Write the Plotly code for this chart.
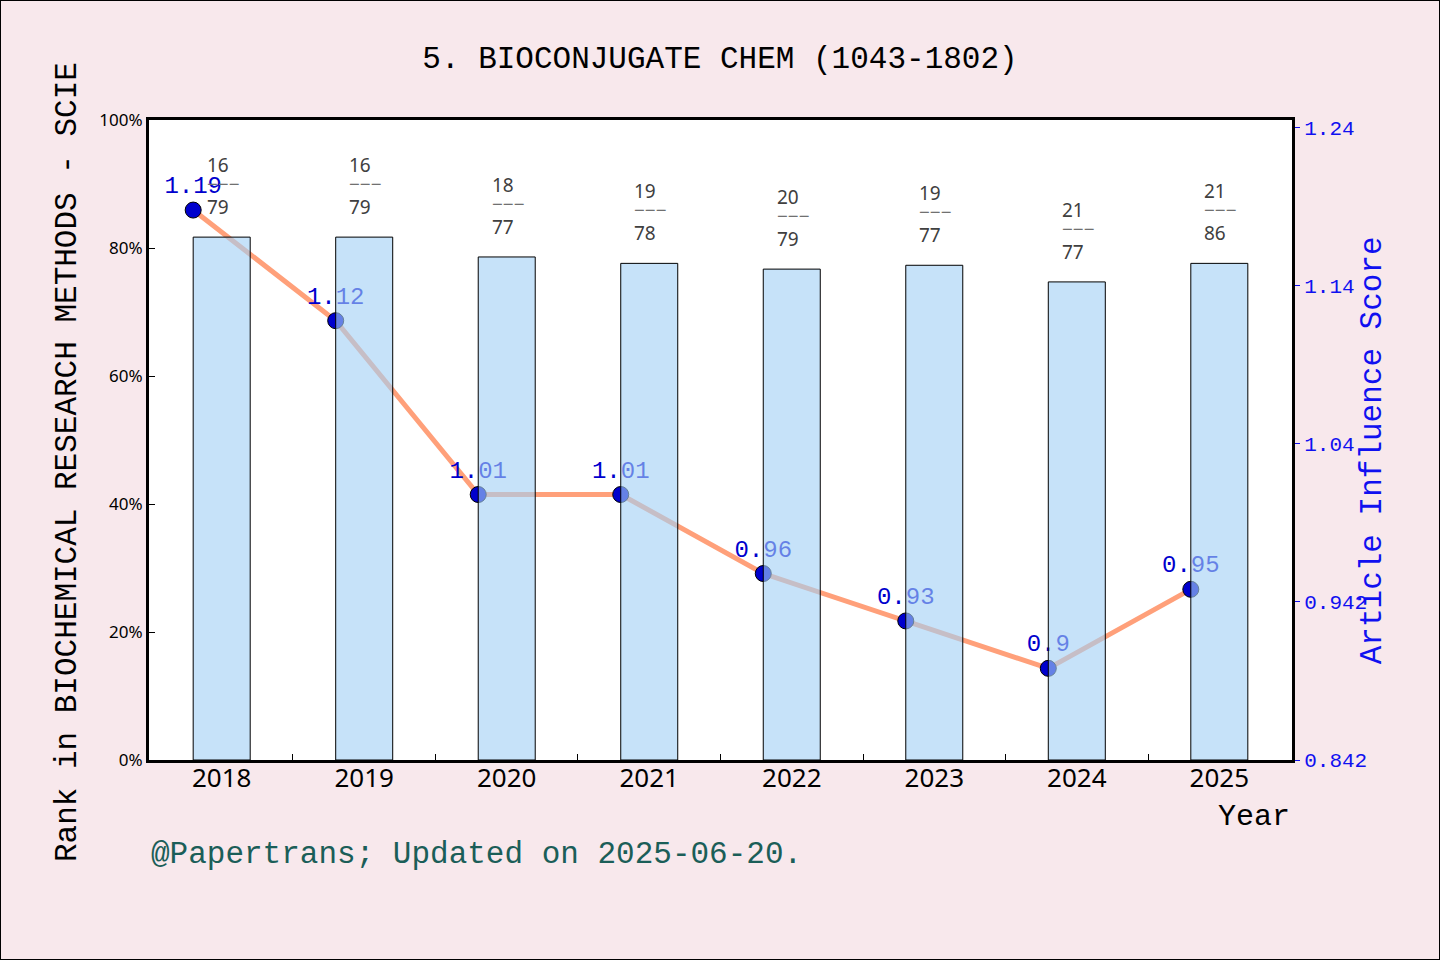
import plotly.graph_objects as go

years = ["2018", "2019", "2020", "2021", "2022", "2023", "2024", "2025"]
rank_pct = [81.7, 81.7, 78.6, 77.6, 76.7, 77.3, 74.7, 77.6]
rank_num = ["16", "16", "18", "19", "20", "19", "21", "21"]
rank_den = ["79", "79", "77", "78", "79", "77", "77", "86"]
ais = [1.19, 1.12, 1.01, 1.01, 0.96, 0.93, 0.90, 0.95]
pct_ticks = [0, 20, 40, 60, 80, 100]
pct_ticktext = ["0%", "20%", "40%", "60%", "80%", "100%"]
ais_ticks = [0.842, 0.942, 1.042, 1.142, 1.242]
ais_ticktext = ["0.842", "0.942", "1.04", "1.14", "1.24"]

MONO = "Liberation Mono, DejaVu Sans Mono, monospace"
SANS = "Noto Sans, Liberation Sans, Arial, sans-serif"

W, H = 1440, 960
ML, MR, MT, MB = 149, 148, 120, 200
pw, ph = W - ML - MR, H - MT - MB

idx = list(range(len(years)))
line_x = [i - 0.2 for i in idx]

fig = go.Figure()

# line first (primary y, right side) so the bars on the overlaying axis sit on top
fig.add_trace(go.Scatter(
    x=line_x, y=ais, yaxis="y",
    mode="lines+markers+text",
    line=dict(color="#FFA07A", width=5),
    marker=dict(size=16, color="#0000CD", line=dict(color="black", width=1)),
    text=[f"{v:g}" for v in ais],
    textposition="top center",
    textfont=dict(family=MONO, size=24, color="#0000CD"),
    showlegend=False, hoverinfo="skip",
))

fig.add_trace(go.Bar(
    x=idx, y=rank_pct, yaxis="y2", width=0.4,
    marker=dict(color="rgba(163,208,245,0.62)", line=dict(color="black", width=1)),
    showlegend=False, hoverinfo="skip",
))

annotations = []
for i in idx:
    annotations.append(dict(x=i, y=rank_pct[i], xref="x", yref="y2", text=rank_num[i],
                            showarrow=False, xanchor="left", yanchor="middle", xshift=-17, yshift=72,
                            font=dict(family=SANS, size=19, color="#404040")))
    annotations.append(dict(x=i, y=rank_pct[i], xref="x", yref="y2", text="\u2212\u2212\u2212",
                            showarrow=False, xanchor="left", yanchor="middle", xshift=-17, yshift=53,
                            font=dict(family=SANS, size=19, color="#707070")))
    annotations.append(dict(x=i, y=rank_pct[i], xref="x", yref="y2", text=rank_den[i],
                            showarrow=False, xanchor="left", yanchor="middle", xshift=-17, yshift=30,
                            font=dict(family=SANS, size=19, color="#404040")))

annotations += [
    dict(x=-0.0717, y=0.4656, xref="paper", yref="paper", textangle=-90,
         text="Rank in BIOCHEMICAL RESEARCH METHODS - SCIE", showarrow=False,
         xanchor="center", yanchor="middle", font=dict(family=MONO, size=31, color="black")),
    dict(x=1.070, y=0.484, xref="paper", yref="paper", textangle=-90,
         text="Article Influence Score", showarrow=False,
         xanchor="center", yanchor="middle", font=dict(family=MONO, size=31, color="#1010F0")),
    dict(x=1.0, y=-0.089, xref="paper", yref="paper", text="Year", showarrow=False,
         xanchor="right", yanchor="middle", font=dict(family=MONO, size=30, color="black")),
    dict(x=0.0, y=-0.148, xref="paper", yref="paper", text="@Papertrans; Updated on 2025-06-20.",
         showarrow=False, xanchor="left", yanchor="middle",
         font=dict(family=MONO, size=31, color="#1B5E58")),
]

# thin frame round the whole figure
frame = dict(type="rect", xref="paper", yref="paper", layer="above",
             x0=-ML / pw, x1=1 + MR / pw, y0=-MB / ph, y1=1 + MT / ph,
             line=dict(color="black", width=2), fillcolor="rgba(0,0,0,0)")

fig.update_layout(
    width=W, height=H,
    paper_bgcolor="#F8E8EC", plot_bgcolor="white",
    margin=dict(l=ML, r=MR, t=MT, b=MB),
    title=dict(text="5. BIOCONJUGATE CHEM (1043-1802)", x=0.5, xanchor="center",
               y=1 - 57 / H, yanchor="middle",
               font=dict(family=MONO, size=31, color="black")),
    xaxis=dict(range=[-0.51, 7.51], tickvals=idx, ticktext=years, ticks="",
               tickfont=dict(family=SANS, size=26, color="black"),
               ticklabelstandoff=-7,
               showline=True, linecolor="black", linewidth=3, mirror=True,
               showgrid=False, zeroline=False,
               minor=dict(tickvals=[i + 0.5 for i in idx[:-1]], ticks="inside",
                          ticklen=6, tickcolor="black", tickwidth=1, showgrid=False)),
    yaxis=dict(range=[0.842, 1.247], side="right", tickvals=ais_ticks, ticktext=ais_ticktext,
               ticks="outside", ticklen=5, tickcolor="#1010F0",
               tickfont=dict(family=MONO, size=21, color="#1010F0"),
               showline=True, linecolor="black", linewidth=3,
               showgrid=False, zeroline=False),
    yaxis2=dict(range=[0, 100], overlaying="y", side="left",
                tickvals=pct_ticks, ticktext=pct_ticktext,
                ticks="inside", ticklen=6, tickcolor="black",
                tickfont=dict(family=SANS, size=17, color="black"),
                showline=True, linecolor="black", linewidth=3,
                showgrid=False, zeroline=False),
    shapes=[frame],
    annotations=annotations,
)

fig.write_html("out.html", config={"displayModeBar": False},
               post_script="document.body.style.margin='0';")
